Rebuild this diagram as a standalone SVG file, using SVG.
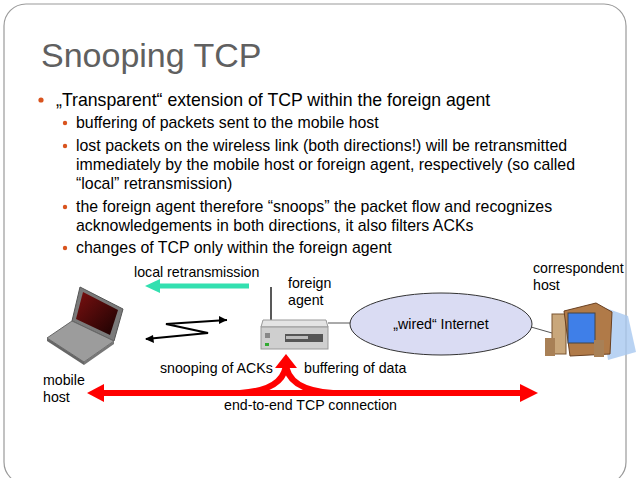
<svg xmlns="http://www.w3.org/2000/svg" width="638" height="478" viewBox="0 0 638 478">
<style>
text{font-family:"Liberation Sans",Arial,sans-serif;fill:#000}
.b1{font-size:17.7px}
.b2{font-size:15.9px}
.lb{font-size:14.2px}
.dot{fill:#d9541e}
</style>
<defs>
<marker id="ab" viewBox="0 0 10 10" refX="9" refY="5" markerWidth="5" markerHeight="5" orient="auto"><path d="M0,1 L10,5 L0,9 z" fill="#000"/></marker>
<linearGradient id="scr" x1="0" y1="0" x2="1" y2="1"><stop offset="0" stop-color="#7a1010"/><stop offset="1" stop-color="#1a0202"/></linearGradient>
</defs>
<rect width="638" height="478" fill="#fff"/>
<rect x="4" y="4" width="622" height="480" rx="22" fill="none" stroke="#9a9a9a" stroke-width="1.2"/>
<text x="41" y="67" style="font-size:34px;fill:#606060">Snooping TCP</text>
<g id="bullets">
<circle class="dot" cx="41" cy="100" r="2.6"/>
<text class="b1" x="56" y="106">„Transparent“ extension of TCP within the foreign agent</text>
<circle class="dot" cx="65" cy="123" r="2.2"/>
<text class="b2" x="76" y="128">buffering of packets sent to the mobile host</text>
<circle class="dot" cx="65" cy="146" r="2.2"/>
<text class="b2" x="76" y="151">lost packets on the wireless link (both directions!) will be retransmitted</text>
<text class="b2" x="76" y="170">immediately by the mobile host or foreign agent, respectively (so called</text>
<text class="b2" x="76" y="189">“local” retransmission)</text>
<circle class="dot" cx="65" cy="207" r="2.2"/>
<text class="b2" x="76" y="212">the foreign agent therefore “snoops” the packet flow and recognizes</text>
<text class="b2" x="76" y="231">acknowledgements in both directions, it also filters ACKs</text>
<circle class="dot" cx="65" cy="248" r="2.2"/>
<text class="b2" x="76" y="253">changes of TCP only within the foreign agent</text>
</g>
<g id="connectors">
<line x1="328" y1="323" x2="351" y2="323" stroke="#555" stroke-width="1"/>
<line x1="531" y1="327" x2="552" y2="333" stroke="#555" stroke-width="1"/>
<line x1="249" y1="286" x2="158" y2="286" stroke="#33e0b0" stroke-width="5"/>
<path d="M145,286 L160,279 L160,293 z" fill="#33e0b0"/>
<polyline points="227,320 166,324 208,333 146,339" fill="none" stroke="#000" stroke-width="2.2"/>
<path d="M227,320 L219,316 L219,324 z" fill="#000"/>
<path d="M145,339 L153,335 L154,343 z" fill="#000"/>
<line x1="100" y1="393" x2="525" y2="393" stroke="#f00" stroke-width="6"/>
<path d="M87,393 L104,384 L104,402 z" fill="#f00"/>
<path d="M538,393 L520,384 L520,402 z" fill="#f00"/>
<path d="M240,393 Q286,390 286,362 Q286,390 333,393" fill="none" stroke="#f00" stroke-width="6"/>
<path d="M286,354 L275,368 L297,368 z" fill="#f00"/>
</g>
<g id="labels">
<text class="lb" x="134" y="277">local retransmission</text>
<text class="lb" x="288" y="288">foreign</text>
<text class="lb" x="288" y="305">agent</text>
<text class="lb" x="160" y="373">snooping of ACKs</text>
<text class="lb" x="304" y="373">buffering of data</text>
<text class="lb" x="43" y="385">mobile</text>
<text class="lb" x="43" y="402">host</text>
<text class="lb" x="224" y="410">end-to-end TCP connection</text>
<text class="lb" x="533" y="273">correspondent</text>
<text class="lb" x="533" y="290">host</text>
</g>
<g id="laptop">
<path d="M80,287 L123,309 L114,341 L72,321 z" fill="#7a7a7a" stroke="#555"/>
<path d="M83,292 L118,310 L110,335 L76,319 z" fill="url(#scr)"/>
<path d="M47,338 L72,321 L114,341 L84,362 z" fill="#9c9c9c" stroke="#666"/>
<path d="M47,338 L84,362 L84,365 L47,341 z" fill="#666"/>
<path d="M84,362 L114,341 L114,344 L84,365 z" fill="#777"/>
</g>
<g id="foreign-agent">
<line x1="271" y1="287" x2="271" y2="322" stroke="#222" stroke-width="1.5"/>
<path d="M263,320 L326,320 L328,327 L261,327 z" fill="#e4e4e4" stroke="#999"/>
<rect x="261" y="327" width="67" height="22" fill="#cfcfcf" stroke="#999"/>
<rect x="285" y="334" width="38" height="8" fill="#555"/>
<rect x="286" y="336" width="22" height="3" fill="#bbb"/>
<rect x="265" y="333" width="5" height="5" fill="#888"/>
<rect x="265" y="343" width="4" height="3" fill="#3a3"/>
</g>
<g id="internet">
<ellipse cx="441" cy="324" rx="91" ry="31" fill="#dadcf3" stroke="#333" stroke-width="1"/>
<text class="lb" x="441" y="329" text-anchor="middle">„wired“ Internet</text>
</g>
<g id="pc">
<path d="M600,306 L628,316 L636,352 L608,360 z" fill="#a8c8f0" opacity="0.8"/>
<rect x="552" y="314" width="14" height="40" fill="#c9a77b" stroke="#7a5530"/>
<path d="M564,311 L596,303 L612,312 L610,354 L570,356 z" fill="#b07a48" stroke="#6a4020"/>
<rect x="568" y="313" width="27" height="30" fill="#3f7fe8" stroke="#444"/>
<rect x="545" y="338" width="10" height="18" fill="#a88056"/>
<rect x="594" y="340" width="10" height="17" fill="#a88056"/>
</g>
</svg>
